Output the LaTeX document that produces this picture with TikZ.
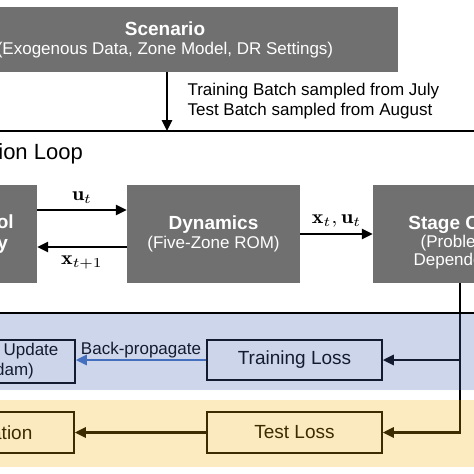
\documentclass[tikz,border=0pt]{standalone}
\usepackage{amsmath}
\usepackage{fontspec}
\setsansfont{Liberation Sans}
\usepackage{tikz}
\usetikzlibrary{positioning,arrows.meta,calc}
\definecolor{boxgray}{HTML}{707070}
\definecolor{trainband}{HTML}{4667B1}
\definecolor{testband}{HTML}{F3AF03}
\definecolor{bparrow}{HTML}{4472C4}

\begin{document}
\begin{tikzpicture}[
    x=1pt, y=-1pt,
    txt/.style={font=\sffamily\fontsize{17}{20}\selectfont},
    block/.style={fill=boxgray, text=white, align=center, minimum height=98pt, inner sep=2pt, font=\sffamily\fontsize{17}{19}\selectfont},
    lossbox/.style={draw=black, line width=1.5pt, fill=white, align=center, minimum height=41pt, inner sep=2pt, font=\sffamily\fontsize{19}{20}\selectfont},
    arr/.style={-{Triangle[length=11pt,width=10pt]}, line width=2.6pt},
    lbl/.style={xscale=2.2, yscale=1.95, transform shape, inner sep=1pt}
]
    \useasboundingbox (0,0) rectangle (474,474);
    \clip (0,0) rectangle (474,474);

    % scenario and sampling
    \node[block, minimum width=466pt, minimum height=65pt] (scen) at (165,39.5) {{\bfseries\fontsize{19}{20}\selectfont Scenario}\\(Exogenous Data, Zone Model, DR Settings)};
    \coordinate (looptop) at (167,131);
    \draw[arr] (scen.south -| looptop) -- (looptop);
    \node[txt, align=left, anchor=west] (batch) at (184,101) {Training Batch sampled from July\\Test Batch sampled from August};

    % simulation loop
    \draw[line width=1.4pt] (-80,131) rectangle (560,313);
    \node[font=\sffamily\fontsize{22}{24}\selectfont, anchor=east, inner sep=0pt] (looplbl) at (83,154) {Simulation Loop};

    \node[block, minimum width=114pt, font=\sffamily\bfseries\fontsize{19}{21}\selectfont] (ctrl) at (-20,234) {Control\\Policy};
    \node[block, minimum width=173pt] (dyn) at (213.5,234) {{\bfseries\fontsize{19}{20}\selectfont Dynamics}\\(Five-Zone ROM)};
    \node[block, minimum width=170pt] (cost) at (458,234) {};
    \node[text=white, align=center, font=\sffamily\fontsize{17}{18}\selectfont] (costtxt) at ([yshift=-9pt]cost.center) {{\bfseries\fontsize{19}{20}\selectfont Stage Cost}\\(Problem-\\Dependent)};

    \draw[arr] ([yshift=24pt]ctrl.east) -- ([yshift=24pt]dyn.west) node[lbl, midway, above=2pt] {$\mathbf{u}_t$};
    \draw[arr] ([yshift=-13pt]dyn.west) -- ([yshift=-13pt]ctrl.east) node[lbl, midway, below=4pt] {$\mathbf{x}_{t+1}$};
    \draw[arr] (dyn) -- (cost) node[lbl, midway, above=2pt] {$\mathbf{x}_t, \mathbf{u}_t$};

    % training and test
    \node[lossbox, minimum width=175pt, minimum height=40pt] (train) at (294.5,360) {Training Loss};
    \node[lossbox, minimum width=175pt] (test) at (294.5,432.5) {Test Loss};
    \node[lossbox, minimum width=138pt, minimum height=43pt, font=\sffamily\fontsize{17}{20}\selectfont] (upd) at (6,361.5) {Policy Update\\(Adam)};
    \node[lossbox, minimum width=172pt] (eval) at (-12,432.5) {Evaluation};

    \draw[arr, draw=bparrow] (train.west) -- (train.west -| upd.east) node[txt, midway, above, inner sep=1pt] {Back-propagate};
    \draw[arr] ([xshift=2pt]cost.south) |- (train.east);
    \draw[arr] ([xshift=2pt]cost.south) |- (test.east);
    \draw[arr] (test) -- (eval);

    % colour bands
    \fill[trainband, fill opacity=0.27] (0,314) rectangle (474,390);
    \fill[testband, fill opacity=0.25] (0,400) rectangle (474,467);
\end{tikzpicture}
\end{document}
